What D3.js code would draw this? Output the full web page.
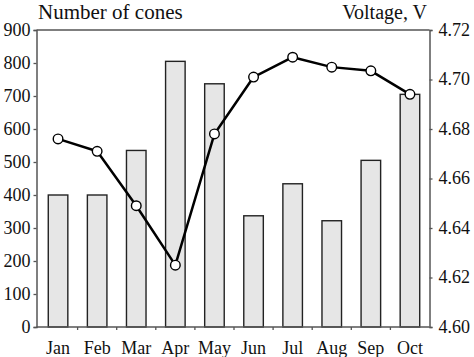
<!DOCTYPE html>
<html><head><meta charset="utf-8">
<script src="https://cdn.jsdelivr.net/npm/d3@7"></script>
<style>
body{margin:0;background:#fff;}
svg text{font-family:"Liberation Serif" !important;}
</style></head>
<body><svg id="c" width="474" height="357" font-family="Liberation Serif"></svg>
<script>
const months = ["Jan","Feb","Mar","Apr","May","Jun","Jul","Aug","Sep","Oct"];
const cones = [400,400,535,805,737,337,434,322,505,705];
const voltage = [4.676,4.671,4.649,4.625,4.678,4.701,4.709,4.705,4.7035,4.694];
const leftTicks = [0,100,200,300,400,500,600,700,800,900];
const rightTicks = [4.60,4.62,4.64,4.66,4.68,4.70,4.72];

const svg = d3.select("#c");
const L = 36.5, R = 429.5, T = 30, B = 327;
const x = d3.scaleBand().domain(months).range([38.5, 429.5]).paddingInner(0.5).paddingOuter(0.25);
const yL = d3.scaleLinear().domain([0,900]).range([B,T]);
const yR = d3.scaleLinear().domain([4.60,4.72]).range([B,T]);
const axisColor = "#555";

svg.append("g").selectAll("rect").data(months).join("rect")
  .attr("x", d => x(d)).attr("width", x.bandwidth())
  .attr("y", (d,i) => yL(cones[i])).attr("height", (d,i) => B - yL(cones[i]))
  .attr("fill", "#e6e6e6").attr("stroke", "#222").attr("stroke-width", 1.4);

svg.append("line").attr("x1", L).attr("x2", R).attr("y1", T).attr("y2", T)
  .attr("stroke", axisColor).attr("stroke-width", 1.5);

const gl = svg.append("g").attr("transform", `translate(${L},0)`)
  .call(d3.axisLeft(yL).tickValues(leftTicks).tickSize(3).tickPadding(3).tickFormat(d3.format("d")));
const gr = svg.append("g").attr("transform", `translate(${R},0)`)
  .call(d3.axisRight(yR).tickValues(rightTicks).tickSize(3).tickPadding(6).tickFormat(d3.format(".2f")));
const gb = svg.append("g").attr("transform", `translate(0,${B})`)
  .call(d3.axisBottom(x).tickSize(0).tickPadding(10));
gb.select(".domain").attr("d", `M${L},0H${R}`);
const bounds = months.map(m => x(m) + x.bandwidth()/2 + x.step()/2).slice(0, -1);
gb.selectAll(".btick").data(bounds).join("line").attr("class","btick")
  .attr("x1", d => d).attr("x2", d => d).attr("y1", 0).attr("y2", 3)
  .attr("stroke", axisColor).attr("stroke-width", 1.3);

[gl, gr, gb].forEach(g => {
  g.attr("font-family", "Liberation Serif").attr("font-size", 18);
  g.selectAll(".domain").attr("stroke", axisColor).attr("stroke-width", 1.5);
  g.selectAll(".tick line").attr("stroke", axisColor).attr("stroke-width", 1.3);
  g.selectAll("text").attr("fill", "#111").attr("font-family", "Liberation Serif");
});
gl.selectAll(".tick text").attr("dy", "0.33em");
gr.selectAll(".tick text").attr("dy", "0.3em");
gb.selectAll(".tick text").attr("dy", "0.95em");

const line = d3.line().x((d,i) => x(months[i]) + x.bandwidth()/2).y(d => yR(d));
svg.append("path").datum(voltage).attr("d", line)
  .attr("fill", "none").attr("stroke", "#000").attr("stroke-width", 2.5).attr("stroke-linejoin", "round");
svg.append("g").selectAll("circle").data(voltage).join("circle")
  .attr("cx", (d,i) => x(months[i]) + x.bandwidth()/2).attr("cy", d => yR(d))
  .attr("r", 4.8).attr("fill", "#fff").attr("stroke", "#000").attr("stroke-width", 1.4);

svg.append("text").attr("x", 38).attr("y", 19).attr("fill", "#111")
  .attr("font-family", "Liberation Serif").attr("font-size", 21).text("Number of cones");
svg.append("text").attr("x", 427).attr("y", 19).attr("text-anchor", "end").attr("fill", "#111")
  .attr("font-family", "Liberation Serif").attr("font-size", 20).text("Voltage, V");
</script></body></html>
